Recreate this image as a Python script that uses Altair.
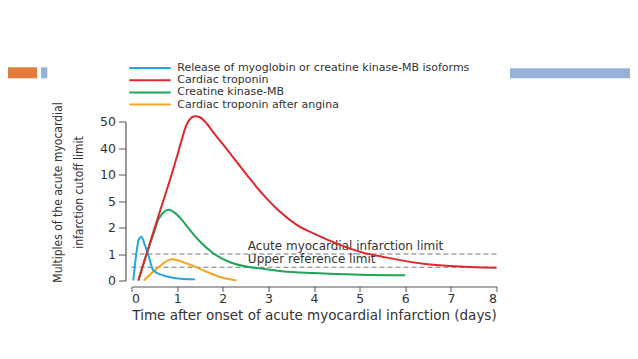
import altair as alt
import pandas as pd

# ---- data ----
series_names = [
    "Release of myoglobin or creatine kinase-MB isoforms",
    "Cardiac troponin",
    "Creatine kinase-MB",
    "Cardiac troponin after angina",
]
series_colors = ["#22A7DF", "#DF2730", "#1EA65A", "#F4A623"]

myo_days = [0.04, 0.11, 0.16, 0.22, 0.28, 0.37, 0.48, 0.7, 1.14, 1.39]
myo_vals = [0, 1.07, 1.55, 1.65, 1.4, 0.95, 0.38, 0.19, 0.06, 0.05]

tn_days = [0.15, 0.33, 0.51, 0.695, 0.88, 1.0, 1.1, 1.2, 1.3, 1.39, 1.5, 1.61, 1.79,
           2.16, 2.53, 2.89, 3.25, 3.62, 4.06, 4.5, 5.08, 5.5, 6.4, 7.0, 8.0]
tn_vals = [0, 1, 2, 5, 10, 31, 43, 48.5, 51.2, 52, 51.6, 50, 46,
           34, 9.9, 6.15, 3.8, 2.3, 1.72, 1.39, 1.05, 0.9, 0.63, 0.55, 0.48]

ck_days = [0.15, 0.33, 0.48, 0.6, 0.7, 0.81, 0.95, 1.1, 1.21, 1.35, 1.5, 1.79,
           2.16, 2.6, 2.89, 3.3, 3.99, 5.0, 6.0]
ck_vals = [0, 1, 1.75, 3.0, 3.7, 4.0, 3.65, 2.9, 2.18, 1.76, 1.47, 1.03,
           0.69, 0.5, 0.44, 0.35, 0.28, 0.22, 0.2]

ang_days = [0.27, 0.55, 0.88, 1.2, 1.5, 1.94, 2.3]
ang_vals = [0, 0.44, 0.8, 0.65, 0.44, 0.13, 0.0]

y_ticks = [0, 1, 2, 5, 10, 40, 50]
x_ticks = [0, 1, 2, 3, 4, 5, 6, 7, 8]

ref_labels = ["Acute myocardial infarction limit", "Upper reference limit"]
ref_values = [1, 0.5]
ref_label_day = [2.55, 2.55]

# ---- tables ----
rows = []
for name, days, vals in [
    (series_names[0], myo_days, myo_vals),
    (series_names[1], tn_days, tn_vals),
    (series_names[2], ck_days, ck_vals),
    (series_names[3], ang_days, ang_vals),
]:
    for d, v in zip(days, vals):
        rows.append({"series": name, "day": d, "value": v})
curves = pd.DataFrame(rows)

refs = pd.DataFrame({"label": ref_labels, "value": ref_values,
                     "x0": [0, 0], "x1": [8, 8], "lx": ref_label_day})

legend_df = pd.DataFrame({"series": series_names, "idx": list(range(len(series_names)))})

FONT = "DejaVu Sans"
TXT = "#333333"
W, H = 365, 159

x_scale = alt.Scale(domain=[0, 8], nice=False)
y_scale = alt.Scale(domain=y_ticks, range=[H, H * 5 / 6, H * 4 / 6, H * 3 / 6, H * 2 / 6, H / 6, 0],
                    nice=False, zero=False)
color_scale = alt.Scale(domain=series_names, range=series_colors)

x_axis = alt.Axis(values=x_ticks, title="Time after onset of acute myocardial infarction (days)",
                  offset=6, tickSize=5, labelPadding=1, titlePadding=3, format="d",
                  labelOverlap=False)
y_axis = alt.Axis(values=y_ticks, title=None, offset=6, tickSize=7, labelPadding=3,
                  labelOverlap=False, labelBound=False, format="d")

# reference lines
ref_rules = alt.Chart(refs).mark_rule(color="#777777", strokeDash=[5, 3], strokeWidth=1).encode(
    x=alt.X("x0:Q", scale=x_scale, axis=x_axis),
    x2="x1:Q",
    y=alt.Y("value:Q", scale=y_scale, axis=y_axis),
)
ref_text = alt.Chart(refs).mark_text(align="left", baseline="bottom", dy=-1, font=FONT,
                                     fontSize=12, color=TXT).encode(
    x=alt.X("lx:Q", scale=x_scale, axis=x_axis),
    y=alt.Y("value:Q", scale=y_scale, axis=y_axis), text="label:N")

# curves, drawn so the red troponin line sits on top
draw_order = [series_names[2], series_names[3], series_names[0], series_names[1]]
curve_layers = []
for name in draw_order:
    curve_layers.append(
        alt.Chart(curves).transform_filter(alt.datum.series == name).mark_line(
            strokeWidth=2, interpolate="monotone").encode(
            x=alt.X("day:Q", scale=x_scale, axis=x_axis),
            y=alt.Y("value:Q", scale=y_scale, axis=y_axis),
            color=alt.Color("series:N", scale=color_scale, legend=None),
        )
    )

# manual legend
leg_rules = alt.Chart(legend_df).transform_calculate(py="-53.5 + 12.2 * datum.idx").mark_rule(
    strokeWidth=2).encode(
    x=alt.value(-2.2), x2=alt.value(39.2),
    y=alt.Y("py:Q", scale=None, axis=None),
    color=alt.Color("series:N", scale=color_scale, legend=None),
)
leg_text = alt.Chart(legend_df).transform_calculate(py="-53.5 + 12.2 * datum.idx").mark_text(
    align="left", baseline="middle", font=FONT, fontSize=11, color=TXT).encode(
    x=alt.value(45.8), y=alt.Y("py:Q", scale=None, axis=None), text="series:N")

# y title
one = alt.Data(values=[{"a": 1}])
y_title = alt.Chart(one).mark_text(angle=270, align="center", baseline="middle", lineBreak="\n",
                                   font="Liberation Sans Narrow, DejaVu Sans Condensed", fontSize=12,
                                   lineHeight=21, color=TXT).encode(
    x=alt.value(-73.5), y=alt.value(71),
    text=alt.value("Multiples of the acute myocardial\ninfarction cutoff limit"))

# slide decorations
deco1 = alt.Chart(one).mark_rect(color="#E07B3C").encode(
    x=alt.value(-123.5), x2=alt.value(-94.5), y=alt.value(-54.2), y2=alt.value(-43.2))
deco2 = alt.Chart(one).mark_rect(color="#95B3D7").encode(
    x=alt.value(-90.5), x2=alt.value(-84.2), y=alt.value(-54.2), y2=alt.value(-43.2))
deco3 = alt.Chart(one).mark_rect(color="#95B3D7").encode(
    x=alt.value(378.5), x2=alt.value(498.5), y=alt.value(-53.2), y2=alt.value(-43.2))

chart = alt.layer(
    deco1, deco2, deco3, ref_rules, ref_text, *curve_layers, leg_rules, leg_text, y_title
).properties(
    width=W, height=H,
    autosize=alt.AutoSizeParams(type="none"),
    padding={"left": 123.5, "top": 113.5, "right": 133.5, "bottom": 62},
).configure_view(stroke=None).configure_axis(
    grid=False, labelFont=FONT, labelFontSize=12.5, labelColor=TXT, titleFont=FONT,
    titleFontSize=13.5, titleFontWeight="normal", titleColor=TXT,
    domainColor="#555555", tickColor="#555555", domainWidth=1.2,
    labelOverlap=False,
)

chart.save("out.html", embed_options={"renderer": "svg", "actions": False})
